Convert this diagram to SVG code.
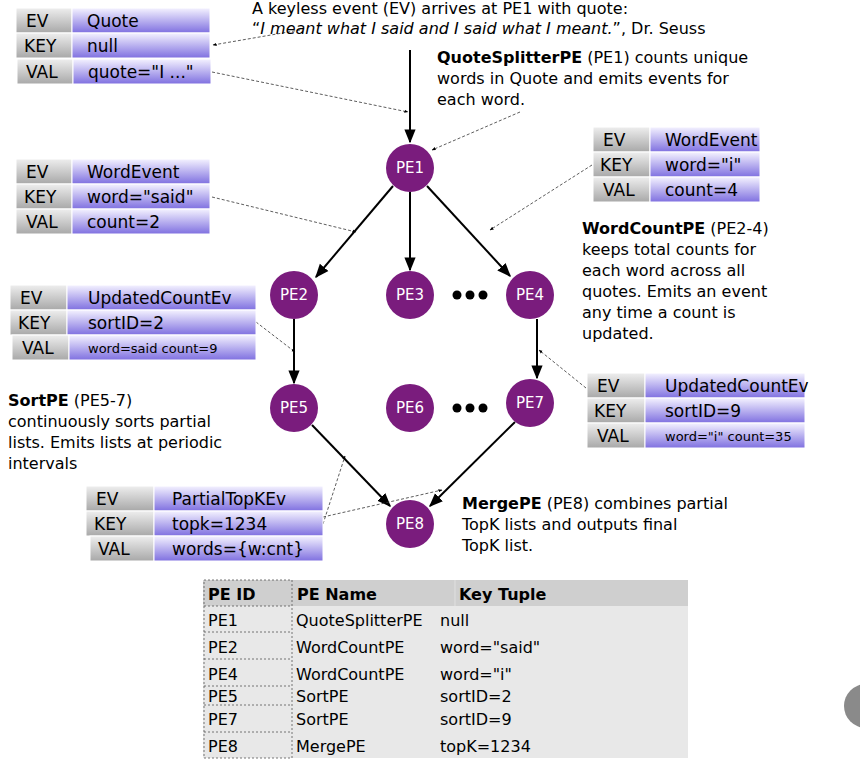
<svg xmlns="http://www.w3.org/2000/svg" width="860" height="770" viewBox="0 0 860 770">
<defs>
<linearGradient id="g" x1="0" y1="0" x2="0" y2="1"><stop offset="0" stop-color="#eeeeee"/><stop offset="1" stop-color="#a8a8a8"/></linearGradient>
<linearGradient id="p" x1="0" y1="0" x2="0" y2="1"><stop offset="0" stop-color="#f4f2ff"/><stop offset="1" stop-color="#7f70e0"/></linearGradient>
<marker id="a" viewBox="0 0 10 10" refX="9" refY="5" markerWidth="7" markerHeight="7" orient="auto"><path d="M0,1 L10,5 L0,9 z" fill="#000"/></marker>
<marker id="s" viewBox="0 0 10 10" refX="9" refY="5" markerWidth="5" markerHeight="5" orient="auto"><path d="M0,1 L10,5 L0,9 z" fill="#000"/></marker>
</defs>
<style>
text{font-family:"DejaVu Sans",sans-serif;font-size:15px;fill:#000}
.c{font-size:17px}
.sm{font-size:13px}
.gc{fill:url(#g);stroke:#fff;stroke-width:1}
.pc{fill:url(#p);stroke:#fff;stroke-width:1}
.n circle{fill:#7a1c7d}
.n text{fill:#fff;font-size:15px;text-anchor:middle}
.sol{stroke:#000;stroke-width:2;fill:none;marker-end:url(#a)}
.dsh{stroke:#333;stroke-width:0.8;stroke-dasharray:3,2;fill:none;marker-end:url(#s)}
.t{font-size:16px}
.tb{font-size:16px}
.cell{fill:#e6e6e6}
</style>
<g id="connectors">
<line class="sol" x1="410" y1="50" x2="410" y2="142"/>
<line class="sol" x1="393" y1="186" x2="316" y2="277"/>
<line class="sol" x1="410" y1="192" x2="410" y2="270"/>
<line class="sol" x1="427" y1="186" x2="510" y2="276"/>
<line class="sol" x1="294" y1="319" x2="294" y2="383"/>
<line class="sol" x1="537" y1="319" x2="537" y2="378"/>
<line class="sol" x1="312" y1="425" x2="390" y2="506"/>
<line class="sol" x1="515" y1="422" x2="430" y2="506"/>
<line class="dsh" x1="300" y1="30" x2="213" y2="45"/>
<line class="dsh" x1="212" y1="72" x2="408" y2="112"/>
<line class="dsh" x1="520" y1="112" x2="432" y2="150"/>
<line class="dsh" x1="212" y1="197" x2="356" y2="232"/>
<line class="dsh" x1="592" y1="165" x2="490" y2="230"/>
<line class="dsh" x1="256" y1="322" x2="295" y2="352"/>
<line class="dsh" x1="586" y1="388" x2="539" y2="350"/>
<line class="dsh" x1="323" y1="524" x2="345" y2="456"/>
<line class="dsh" x1="323" y1="517" x2="442" y2="490"/>
</g>
<g id="note-top"><text x="252" y="14" class="t">A keyless event (EV) arrives at PE1 with quote:</text><text x="252" y="34" class="t">“<tspan font-style="italic">I meant what I said and I said what I meant.</tspan>”, Dr. Seuss</text></g>
<g id="note-qs"><text x="437" y="63" class="t"><tspan font-weight="bold">QuoteSplitterPE</tspan> (PE1) counts unique</text><text x="437" y="84" class="t">words in Quote and emits events for</text><text x="437" y="105" class="t">each word.</text></g>
<g id="note-wc" class="t"><text x="582" y="234" class="t"><tspan font-weight="bold">WordCountPE</tspan> (PE2-4)</text><text x="582" y="255" class="t">keeps total counts for</text><text x="582" y="276" class="t">each word across all</text><text x="582" y="297" class="t">quotes. Emits an event</text><text x="582" y="318" class="t">any time a count is</text><text x="582" y="339" class="t">updated.</text></g>
<g id="note-sort"><text x="8" y="406" class="t"><tspan font-weight="bold">SortPE</tspan> (PE5-7)</text><text x="8" y="427" class="t">continuously sorts partial</text><text x="8" y="448" class="t">lists. Emits lists at periodic</text><text x="8" y="469" class="t">intervals</text></g>
<g id="note-merge"><text x="462" y="509" class="t"><tspan font-weight="bold">MergePE</tspan> (PE8) combines partial</text><text x="462" y="530" class="t">TopK lists and outputs final</text><text x="462" y="551" class="t">TopK list.</text></g>

<g id="ev1">
<rect class="gc" x="16" y="8" width="56" height="25"/><rect class="pc" x="72" y="8" width="138" height="25"/>
<rect class="gc" x="16" y="33" width="56" height="25"/><rect class="pc" x="72" y="33" width="138" height="25"/>
<rect class="gc" x="17" y="59" width="56" height="25"/><rect class="pc" x="73" y="59" width="138" height="25"/>
<text x="26" y="27" class="c">EV</text><text x="87" y="27" class="c">Quote</text>
<text x="24" y="52" class="c">KEY</text><text x="87" y="52" class="c">null</text>
<text x="26" y="78" class="c">VAL</text><text x="88" y="78" class="c">quote="I ..."</text>
</g>
<g id="ev2">
<rect class="gc" x="16" y="159" width="56" height="25"/><rect class="pc" x="72" y="159" width="138" height="25"/>
<rect class="gc" x="16" y="184" width="56" height="25"/><rect class="pc" x="72" y="184" width="138" height="25"/>
<rect class="gc" x="16" y="209" width="56" height="25"/><rect class="pc" x="72" y="209" width="138" height="25"/>
<text x="26" y="178" class="c">EV</text><text x="87" y="178" class="c">WordEvent</text>
<text x="24" y="203" class="c">KEY</text><text x="87" y="203" class="c">word="said"</text>
<text x="26" y="228" class="c">VAL</text><text x="87" y="228" class="c">count=2</text>
</g>
<g id="ev3">
<rect class="gc" x="593" y="127" width="57" height="25"/><rect class="pc" x="650" y="127" width="110" height="25"/>
<rect class="gc" x="593" y="152" width="57" height="25"/><rect class="pc" x="650" y="152" width="110" height="25"/>
<rect class="gc" x="593" y="177" width="57" height="25"/><rect class="pc" x="650" y="177" width="110" height="25"/>
<text x="603" y="146" class="c">EV</text><text x="665" y="146" class="c">WordEvent</text>
<text x="600" y="171" class="c">KEY</text><text x="665" y="171" class="c">word="i"</text>
<text x="603" y="196" class="c">VAL</text><text x="665" y="196" class="c">count=4</text>
</g>
<g id="ev4">
<rect class="gc" x="10" y="285" width="57" height="25"/><rect class="pc" x="67" y="285" width="189" height="25"/>
<rect class="gc" x="10" y="310" width="57" height="25"/><rect class="pc" x="67" y="310" width="189" height="25"/>
<rect class="gc" x="12" y="335" width="57" height="25"/><rect class="pc" x="69" y="335" width="187" height="25"/>
<text x="20" y="304" class="c">EV</text><text x="88" y="304" class="c">UpdatedCountEv</text>
<text x="18" y="329" class="c">KEY</text><text x="88" y="329" class="c">sortID=2</text>
<text x="22" y="354" class="c">VAL</text><text x="88" y="353" class="sm">word=said count=9</text>
</g>
<g id="ev5">
<rect class="gc" x="587" y="373" width="58" height="25"/><rect class="pc" x="645" y="373" width="160" height="25"/>
<rect class="gc" x="587" y="398" width="58" height="25"/><rect class="pc" x="645" y="398" width="160" height="25"/>
<rect class="gc" x="587" y="423" width="58" height="25"/><rect class="pc" x="645" y="423" width="160" height="25"/>
<text x="597" y="392" class="c">EV</text><text x="665" y="392" class="c">UpdatedCountEv</text>
<text x="594" y="417" class="c">KEY</text><text x="665" y="417" class="c">sortID=9</text>
<text x="597" y="442" class="c">VAL</text><text x="665" y="441" class="sm">word="i" count=35</text>
</g>
<g id="ev6">
<rect class="gc" x="86" y="486" width="68" height="25"/><rect class="pc" x="154" y="486" width="169" height="25"/>
<rect class="gc" x="86" y="511" width="68" height="25"/><rect class="pc" x="154" y="511" width="169" height="25"/>
<rect class="gc" x="90" y="536" width="64" height="25"/><rect class="pc" x="154" y="536" width="169" height="25"/>
<text x="96" y="505" class="c">EV</text><text x="172" y="505" class="c">PartialTopKEv</text>
<text x="94" y="530" class="c">KEY</text><text x="172" y="530" class="c">topk=1234</text>
<text x="98" y="555" class="c">VAL</text><text x="172" y="555" class="c">words={w:cnt}</text>
</g>

<g id="PE1" class="n"><circle cx="410" cy="168" r="24"/><text x="410" y="173">PE1</text></g>
<g id="PE2" class="n"><circle cx="294" cy="295" r="24"/><text x="294" y="300">PE2</text></g>
<g id="PE3" class="n"><circle cx="410" cy="295" r="24"/><text x="410" y="300">PE3</text></g>
<g id="PE4" class="n"><circle cx="530" cy="295" r="24"/><text x="530" y="300">PE4</text></g>
<g id="PE5" class="n"><circle cx="294" cy="408" r="24"/><text x="294" y="413">PE5</text></g>
<g id="PE6" class="n"><circle cx="410" cy="408" r="24"/><text x="410" y="413">PE6</text></g>
<g id="PE7" class="n"><circle cx="530" cy="403" r="24"/><text x="530" y="408">PE7</text></g>
<g id="PE8" class="n"><circle cx="410" cy="524" r="24"/><text x="410" y="529">PE8</text></g>
<g id="dots1" fill="#000"><circle cx="457" cy="295" r="4.5"/><circle cx="470" cy="295" r="4.5"/><circle cx="483" cy="295" r="4.5"/></g>
<g id="dots2" fill="#000"><circle cx="457" cy="408" r="4.5"/><circle cx="470" cy="408" r="4.5"/><circle cx="483" cy="408" r="4.5"/></g>

<g id="table">
<rect x="203" y="580" width="485" height="178" fill="#e8e8e8"/>
<rect x="203" y="580" width="485" height="26" fill="#cfcfcf"/>
<line x1="455" y1="580" x2="455" y2="606" stroke="#e0e0e0"/>
<g stroke="#555" stroke-dasharray="2,2" fill="none" stroke-width="0.8">
<rect x="204" y="580" width="88" height="178"/>
<line x1="204" y1="606" x2="292" y2="606"/><line x1="204" y1="632" x2="292" y2="632"/><line x1="204" y1="659" x2="292" y2="659"/><line x1="204" y1="686" x2="292" y2="686"/><line x1="204" y1="705" x2="292" y2="705"/><line x1="204" y1="732" x2="292" y2="732"/>
</g>
<g class="tb">
<text x="208" y="600" font-weight="bold" class="tb">PE ID</text><text x="297" y="600" font-weight="bold" class="tb">PE Name</text><text x="459" y="600" font-weight="bold" class="tb">Key Tuple</text>
<text x="208" y="626" class="tb">PE1</text><text x="296" y="626" class="tb">QuoteSplitterPE</text><text x="440" y="626" class="tb">null</text>
<text x="208" y="653" class="tb">PE2</text><text x="296" y="653" class="tb">WordCountPE</text><text x="440" y="653" class="tb">word="said"</text>
<text x="208" y="680" class="tb">PE4</text><text x="296" y="680" class="tb">WordCountPE</text><text x="440" y="680" class="tb">word="i"</text>
<text x="208" y="702" class="tb">PE5</text><text x="296" y="702" class="tb">SortPE</text><text x="440" y="702" class="tb">sortID=2</text>
<text x="208" y="725" class="tb">PE7</text><text x="296" y="725" class="tb">SortPE</text><text x="440" y="725" class="tb">sortID=9</text>
<text x="208" y="752" class="tb">PE8</text><text x="296" y="752" class="tb">MergePE</text><text x="440" y="752" class="tb">topK=1234</text>
</g>
</g>
<circle cx="866" cy="706" r="22" fill="#8a8a8a"/>
</svg>
